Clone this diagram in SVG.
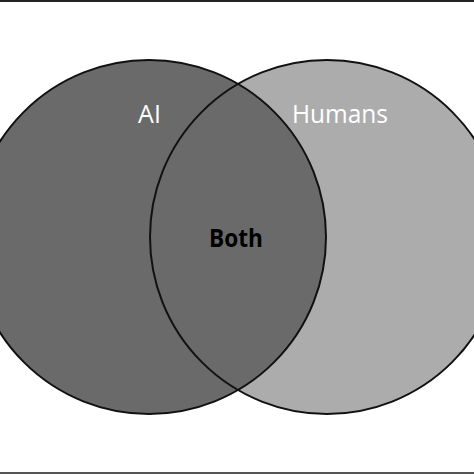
<svg xmlns="http://www.w3.org/2000/svg" width="474" height="474" viewBox="0 0 474 474">
<style>
.lbl{font-family:"Open Sans","DejaVu Sans",sans-serif;font-size:25px}
.edge{fill:none;stroke:#111;stroke-width:2}
</style>
<rect width="474" height="474" fill="#fff"/>
<rect x="0" y="0" width="474" height="2" fill="#222"/>
<rect x="0" y="472" width="474" height="2" fill="#555"/>
<g id="humans">
<circle cx="327" cy="237" r="177" fill="#acacac"/>
</g>
<g id="ai">
<circle cx="149" cy="237" r="177" fill="#6a6a6a"/>
</g>
<g id="outlines">
<circle class="edge" cx="327" cy="237" r="177"/>
<circle class="edge" cx="149" cy="237" r="177"/>
</g>
<text class="lbl" x="149.5" y="123" fill="#fff" text-anchor="middle">AI</text>
<text class="lbl" x="340" y="123" fill="#fff" text-anchor="middle" textLength="96" lengthAdjust="spacingAndGlyphs">Humans</text>
<text class="lbl" x="236" y="247" fill="#000" font-size="26" font-weight="bold" text-anchor="middle" textLength="54" lengthAdjust="spacingAndGlyphs">Both</text>
</svg>
